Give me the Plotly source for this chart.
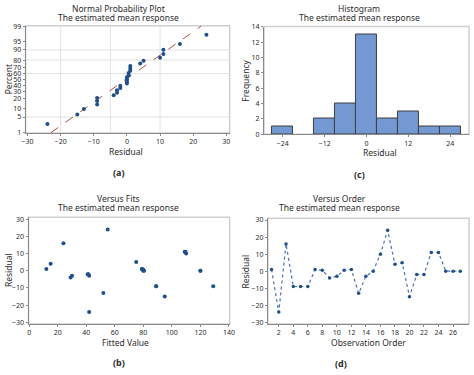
import plotly.graph_objects as go
from statistics import NormalDist, mean, stdev

# ---------------- data ----------------
order = list(range(1, 28))
residuals = [1, -24, 16, -9, -9, -9, 1, 0.5, -4, -3, 0.5, 1, -13, -3, 0,
             10, 24, 4, 5, -15, -2, -2, 11, 11, 0, 0, 0]
fitted = [12, 42, 24, 89, 89, 129, 79, 80, 29, 30, 79.5, 79, 52, 42, 120,
          110, 55, 15, 75, 95, 41, 41.5, 109, 109.5, 80.5, 120, 80]

prob_ticks = [1, 5, 10, 20, 30, 40, 50, 60, 70, 80, 90, 95, 99]
prob_grid = [5, 60, 80, 90]
resid_grid = [-20, -5, 10]
npp_xticks = [-30, -20, -10, 0, 10, 20, 30]
hist_xticks = [-24, -12, 0, 12, 24]
hist_yticks = [0, 2, 4, 6, 8, 10, 12, 14]
fit_xticks = [0, 20, 40, 60, 80, 100, 120, 140]
res_yticks = [-30, -20, -10, 0, 10, 20, 30]
order_xticks = [2, 4, 6, 8, 10, 12, 14, 16, 18, 20, 22, 24, 26]

# ---------------- derived ----------------
nd = NormalDist()
n = len(residuals)
sorted_res = sorted(residuals)
z_pts = [nd.inv_cdf((i + 1 - 0.3) / (n + 0.4)) for i in range(n)]
mu, sd = mean(residuals), stdev(residuals)
z_line = [nd.inv_cdf(0.01), nd.inv_cdf(0.99)]
x_line = [mu + sd * z for z in z_line]

W, H = 474, 375
FONT = "Noto Sans"
TXT = "#2b2b2b"
MARK = "#1f4f8f"


def px(x):
    return x / W


def py(y):
    return 1 - y / H


doms = {
    "a": ([px(22), px(230)], [py(131.7), py(22.3)]),
    "c": ([px(265), px(474)], [py(133), py(23)]),
    "b": ([px(25), px(230)], [py(327), py(218)]),
    "d": ([px(269), px(474)], [py(327), py(219)]),
}

fig = go.Figure()

# (a) normal probability plot
fig.add_trace(go.Scatter(x=x_line, y=z_line, mode="lines",
                         line=dict(color="#b5503f", width=1, dash="dash"),
                         xaxis="x", yaxis="y", hoverinfo="skip"))
fig.add_trace(go.Scatter(x=sorted_res, y=z_pts, mode="markers",
                         marker=dict(color=MARK, size=4),
                         xaxis="x", yaxis="y"))

# (c) histogram
fig.add_trace(go.Histogram(x=residuals, xbins=dict(start=-27, end=27, size=6),
                           marker=dict(color="#7398d2",
                                       line=dict(color="#3f3f3f", width=1)),
                           xaxis="x2", yaxis="y2"))

# (b) versus fits
fig.add_trace(go.Scatter(x=fitted, y=residuals, mode="markers",
                         marker=dict(color=MARK, size=4),
                         xaxis="x3", yaxis="y3"))

# (d) versus order
fig.add_trace(go.Scatter(x=order, y=residuals, mode="lines+markers",
                         line=dict(color="#4d72a8", width=1.2, dash="dot"),
                         marker=dict(color=MARK, size=3.5),
                         xaxis="x4", yaxis="y4"))

tickfont = dict(family=FONT, size=7, color=TXT)
common = dict(showline=True, linecolor="#8a8a8a", linewidth=1, ticks="outside",
              ticklen=2, tickcolor="#8a8a8a", tickfont=tickfont, zeroline=False,
              showgrid=False)

fig.update_layout(
    width=W, height=H, margin=dict(l=0, r=0, t=0, b=0),
    paper_bgcolor="white", plot_bgcolor="white", showlegend=False,
    bargap=0,
    xaxis=dict(domain=doms["a"][0], anchor="y", range=[-30.6, 31],
               tickvals=npp_xticks, **common),
    yaxis=dict(domain=doms["a"][1], anchor="x",
               range=[nd.inv_cdf(0.01) - 0.01, nd.inv_cdf(0.99) + 0.01],
               tickvals=[nd.inv_cdf(p / 100) for p in prob_ticks],
               ticktext=[str(p) for p in prob_ticks], **common),
    xaxis2=dict(domain=doms["c"][0], anchor="y2", range=[-29.4, 29.4],
                tickvals=hist_xticks, **common),
    yaxis2=dict(domain=doms["c"][1], anchor="x2", range=[0, 14.05],
                tickvals=hist_yticks, **common),
    xaxis3=dict(domain=doms["b"][0], anchor="y3", range=[-0.5, 140.5],
                tickvals=fit_xticks, **common),
    yaxis3=dict(domain=doms["b"][1], anchor="x3", range=[-31, 31],
                tickvals=res_yticks, **common),
    xaxis4=dict(domain=doms["d"][0], anchor="y4", range=[0.5, 28.2],
                tickvals=order_xticks, **common),
    yaxis4=dict(domain=doms["d"][1], anchor="x4", range=[-31, 31],
                tickvals=res_yticks, **common),
)

shapes = []
# light frames
for key in ["a", "c", "b", "d"]:
    xd, yd = doms[key]
    shapes.append(dict(type="rect", xref="paper", yref="paper",
                       x0=xd[0], x1=xd[1], y0=yd[0], y1=yd[1],
                       line=dict(color="#cfcfcf", width=1.5), layer="below"))
# gridlines in normal plot
for g in resid_grid:
    shapes.append(dict(type="line", xref="x", yref="y domain", x0=g, x1=g,
                       y0=0, y1=1, line=dict(color="#e2e2e2", width=1),
                       layer="below"))
for g in prob_grid:
    zg = nd.inv_cdf(g / 100)
    shapes.append(dict(type="line", xref="x domain", yref="y", x0=0, x1=1,
                       y0=zg, y1=zg, line=dict(color="#e2e2e2", width=1),
                       layer="below"))
fig.update_layout(shapes=shapes)

ann = []


def text(x, y, s, size=8, bold=False, angle=0):
    ann.append(dict(x=px(x), y=py(y), xref="paper", yref="paper", text=s,
                    showarrow=False, xanchor="center", yanchor="middle",
                    textangle=angle,
                    font=dict(family=FONT, size=size, color=TXT,
                              weight="bold" if bold else "normal")))


# titles
text(117, 4.5, "Normal Probability Plot", 8.5)
text(117, 13.5, "The estimated mean response", 8.5)
text(362, 5, "Histogram", 8.5)
text(362, 14, "The estimated mean response", 8.5)
text(117, 199, "Versus Fits", 8.5)
text(117, 208, "The estimated mean response", 8.5)
text(342, 199, "Versus Order", 8.5)
text(342, 208, "The estimated mean response", 8.5)

# axis titles
text(124, 151, "Residual", 8.5)
text(4, 77, "Percent", 8.5, angle=-90)
text(383, 152, "Residual", 8.5)
text(246, 78, "Frequency", 8.5, angle=-90)
text(124, 346, "Fitted Value", 8.5)
text(4, 272, "Residual", 8.5, angle=-90)
text(372, 346, "Observation Order", 8.5)
text(246, 273, "Residual", 8.5, angle=-90)

# panel labels
text(117, 172, "(a)", 9, bold=True)
text(362, 174, "(c)", 9, bold=True)
text(117, 366, "(b)", 9, bold=True)
text(344, 367, "(d)", 9, bold=True)

fig.update_layout(annotations=ann)

fig.write_html(
    "out.html",
    config={"displayModeBar": False},
    post_script="document.body.style.margin='0';document.body.style.overflow='hidden';",
)
